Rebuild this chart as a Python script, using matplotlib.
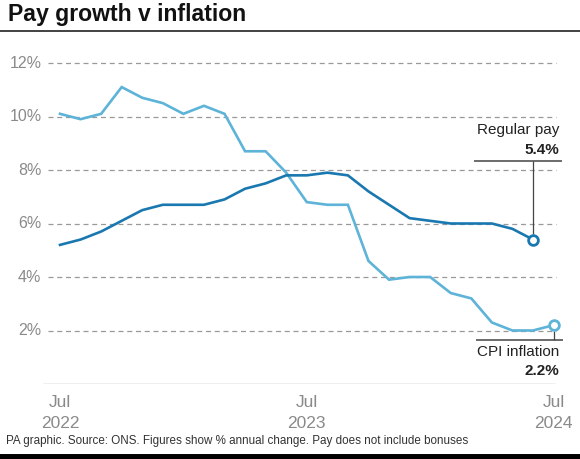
import matplotlib.pyplot as plt
from matplotlib.lines import Line2D

# monthly values, Jul 2022 onwards
cpi = [10.1, 9.9, 10.1, 11.1, 10.7, 10.5, 10.1, 10.4, 10.1, 8.7, 8.7, 7.9, 6.8,
       6.7, 6.7, 4.6, 3.9, 4.0, 4.0, 3.4, 3.2, 2.3, 2.0, 2.0, 2.2]
pay = [5.2, 5.4, 5.7, 6.1, 6.5, 6.7, 6.7, 6.7, 6.9, 7.3, 7.5, 7.8, 7.8,
       7.9, 7.8, 7.2, 6.7, 6.2, 6.1, 6.0, 6.0, 6.0, 5.8, 5.4]
yticks = [2, 4, 6, 8, 10, 12]
xtick_pos = [0, 12, 24]
xtick_labels = ['Jul\n2022', 'Jul\n2023', 'Jul\n2024']

dark = '#1a78b0'
light = '#5db3d8'
grey = '#8a8a8a'

plt.rcParams['font.family'] = ['Liberation Sans', 'DejaVu Sans']

fig = plt.figure(figsize=(5.8, 4.59), dpi=100)
ax = fig.add_axes([43 / 580, 75 / 459, 520 / 580, 344 / 459])
ax.set_xlim(-0.827, 24.46)
ax.set_ylim(0, 12.86)
ax.axis('off')

for y in yticks:
    ax.hlines(y, -0.58, 24.1, colors='#999999', linestyles=(0, (4, 3)), linewidth=0.9)
    ax.text(-0.9, y, f'{y}%', ha='right', va='center', fontsize=11.5, color=grey)
ax.hlines(0, -0.827, 24.07, colors='#aaaaaa', linewidth=1)

for x, lab in zip(xtick_pos, xtick_labels):
    ax.text(x, -0.4, lab, ha='center', va='top', fontsize=12.5, color=grey,
            linespacing=1.5)

ax.plot(range(len(cpi)), cpi, color=light, lw=1.9, solid_joinstyle='miter', zorder=3)
ax.plot(range(len(pay)), pay, color=dark, lw=1.9, solid_joinstyle='miter', zorder=4)
ax.plot(len(pay) - 1, pay[-1], 'o', ms=7, mfc='white', mec=dark, mew=2, zorder=5)
ax.plot(len(cpi) - 1, cpi[-1], 'o', ms=7, mfc='white', mec=light, mew=2, zorder=5)

# labels
ax.hlines(8.34, 20.14, 24.4, colors='#444444', linewidth=1.1)
ax.vlines(len(pay) - 1, pay[-1] + 0.2, 8.34, colors='#444444', linewidth=0.9)
ax.text(24.3, 9.5, 'Regular pay', ha='right', va='center', fontsize=11, color='#222222')
ax.text(24.3, 8.76, f'{pay[-1]}%', ha='right', va='center', fontsize=11,
        fontweight='bold', color='#222222')

ax.hlines(1.645, 20.23, 24.46, colors='#444444', linewidth=1.1)
ax.vlines(len(cpi) - 1, 1.645, cpi[-1] - 0.2, colors='#444444', linewidth=0.9)
ax.text(24.3, 1.2, 'CPI inflation', ha='right', va='center', fontsize=11, color='#222222')
ax.text(24.3, 0.49, f'{cpi[-1]}%', ha='right', va='center', fontsize=11,
        fontweight='bold', color='#222222')

fig.text(8 / 580, 1 - 15 / 459, 'Pay growth v inflation', ha='left', va='center',
         fontsize=16.6, fontweight='bold', color='#111111')
fig.add_artist(Line2D([0, 1], [1 - 31 / 459] * 2, color='#333333', lw=1.3))
fig.text(6 / 580, 1 - 441 / 459,
         'PA graphic. Source: ONS. Figures show % annual change. Pay does not include bonuses',
         ha='left', va='center', fontsize=8.4, color='#333333')
fig.add_artist(Line2D([0, 1], [2.5 / 459] * 2, color='black', lw=5))

fig.savefig('out.png', dpi=100)
